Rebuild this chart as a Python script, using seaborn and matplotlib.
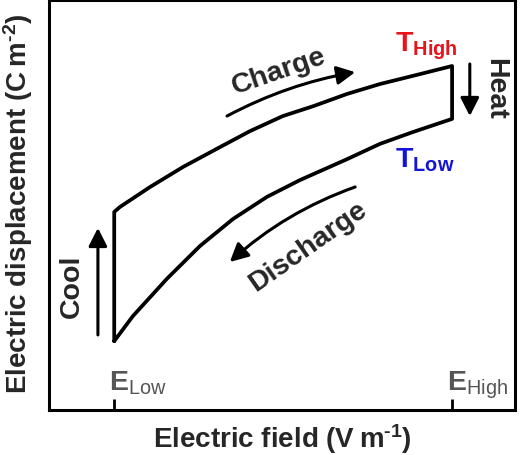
import matplotlib
matplotlib.use('Agg')
import matplotlib.pyplot as plt
import seaborn as sns
import pandas as pd

# Field limits of the cycle (arbitrary units)
E_LOW = 1.40
E_HIGH = 8.65

# Charge branch (upper curve, T_High)
charge_E = [1.40, 1.52, 2.17, 2.88, 3.60, 4.31, 5.02, 5.67, 6.40, 7.10, 7.81, 8.65]
charge_D = [4.83, 4.95, 5.44, 5.93, 6.37, 6.80, 7.17, 7.41, 7.71, 7.95, 8.15, 8.39]

# Discharge branch (lower curve, T_Low)
discharge_E = [1.40, 1.80, 2.53, 3.24, 3.95, 4.68, 5.39, 6.40, 7.10, 7.81, 8.65]
discharge_D = [1.68, 2.29, 3.20, 4.00, 4.66, 5.20, 5.61, 6.12, 6.49, 6.78, 7.10]

tick_labels = ['E', 'E']
tick_subs = ['Low', 'High']

sns.set_style('white')
plt.rcParams['font.family'] = ['Liberation Sans', 'DejaVu Sans']
plt.rcParams['mathtext.fontset'] = 'custom'
plt.rcParams['mathtext.rm'] = 'Liberation Sans'
plt.rcParams['mathtext.bf'] = 'Liberation Sans:bold'
plt.rcParams['mathtext.it'] = 'Liberation Sans:italic'

fs = 20.5
fs_axis = 20
fig = plt.figure(figsize=(5.2, 4.56), dpi=100)
ax = fig.add_axes([0.0942, 0.0987, 0.8962, 0.8991])

# closed cycle: cool (vertical up), charge, heat (vertical down), discharge
cycle = pd.DataFrame({
    'E': [discharge_E[0]] + charge_E + discharge_E[::-1],
    'D': [discharge_D[0]] + charge_D + discharge_D[::-1],
})
sns.lineplot(data=cycle, x='E', y='D', sort=False, estimator=None,
             color='black', linewidth=2.7, ax=ax)

ax.set_xlim(0, 10)
ax.set_ylim(0, 10)
for s in ax.spines.values():
    s.set_linewidth(2.2)
    s.set_color('black')
ax.set_xticks([E_LOW, E_HIGH])
ax.set_xticklabels([])
ax.set_yticks([])
ax.tick_params(axis='x', direction='in', length=8, width=2, color='black', bottom=True)

ax.set_xlabel('Electric field (V\u2009m$^{\\mathbf{\u20101}}$)', fontsize=fs_axis, fontweight='bold')
ax.xaxis.set_label_coords(0.5, -0.028)
ax.set_ylabel('Electric displacement (C\u2009m$^{\\mathbf{\u20102}}$)', fontsize=fs_axis, fontweight='bold')
ax.yaxis.set_label_coords(-0.03, 0.505)

# E_Low / E_High labels just above the ticks
for e, t, sub in zip([E_LOW, E_HIGH], tick_labels, tick_subs):
    ax.text(e - 0.12, 0.50, r'$\mathbf{%s}_{\mathrm{%s}}$' % (t, sub), color='#555555',
            fontsize=fs, ha='left', va='baseline')

# temperature labels
ax.text(7.42, 8.76, r'$\mathbf{T}_{\mathbf{High}}$', color='#e8141c', fontsize=fs,
        ha='left', va='baseline')
ax.text(7.42, 5.95, r'$\mathbf{T}_{\mathbf{Low}}$', color='#1414d8', fontsize=fs,
        ha='left', va='baseline')

# process labels
ax.text(4.94, 8.27, 'Charge', rotation=19, ha='center', va='center',
        rotation_mode='anchor', fontsize=fs, fontweight='bold')
ax.text(5.56, 4.00, 'Discharge', rotation=35, ha='center', va='center',
        rotation_mode='anchor', fontsize=fs, fontweight='bold')
ax.text(0.49, 3.05, 'Cool', rotation=90, ha='center', va='center',
        rotation_mode='anchor', fontsize=fs, fontweight='bold')
ax.text(9.57, 7.85, 'Heat', rotation=270, ha='center', va='center',
        rotation_mode='anchor', fontsize=fs, fontweight='bold')

# process arrows
arrow = dict(arrowstyle='-|>,head_length=0.55,head_width=0.28', lw=2.2, color='black',
             mutation_scale=20, shrinkA=0, shrinkB=0)
ax.annotate('', xy=(6.57, 8.24), xytext=(3.82, 7.17),
            arrowprops=dict(arrow, connectionstyle='arc3,rad=-0.08'))
ax.annotate('', xy=(3.88, 3.61), xytext=(6.57, 5.44),
            arrowprops=dict(arrow, connectionstyle='arc3,rad=0.1'))
ax.annotate('', xy=(1.05, 4.44), xytext=(1.05, 1.83), arrowprops=arrow)
ax.annotate('', xy=(9.03, 7.17), xytext=(9.03, 8.44), arrowprops=arrow)

fig.savefig('out.png', dpi=100)
